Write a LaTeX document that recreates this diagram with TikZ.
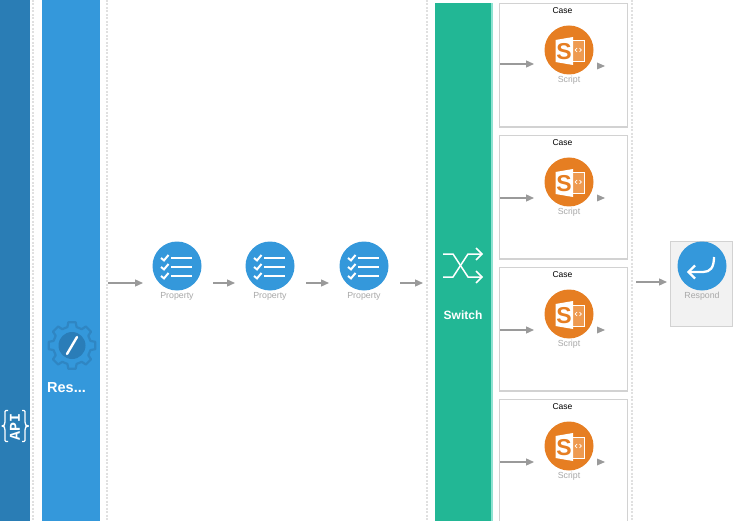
\documentclass[tikz,border=0pt]{standalone}
\usepackage{fontspec}
\setmainfont{Liberation Sans}
\setmonofont{Liberation Mono}
\usetikzlibrary{arrows.meta,calc}
\definecolor{apibar}{HTML}{2A7DB5}
\definecolor{resbar}{HTML}{3498DB}
\definecolor{gearc}{HTML}{2F86C3}
\definecolor{geard}{HTML}{2A7DB8}
\definecolor{sw}{HTML}{22B795}
\definecolor{swedge}{HTML}{8FE3D2}
\definecolor{orng}{HTML}{E67E22}
\definecolor{orngl}{HTML}{EE9A50}
\definecolor{bluec}{HTML}{3498DB}
\definecolor{linec}{HTML}{9A9A9A}
\definecolor{lab}{HTML}{A8A8A8}
\definecolor{divc}{HTML}{E0E0E0}
\definecolor{boxc}{HTML}{D2D2D2}
\tikzset{
  x=1pt,y=-1pt,
  flow/.style={draw=linec,line width=1.3pt,-{Triangle[length=8pt,width=7pt]}},
  divider/.style={draw=divc,line width=1.3pt,dash pattern=on 2pt off 1.5pt},
  icircle/.style={circle,minimum size=49pt,inner sep=0pt,draw=none},
  caption/.style={font=\fontsize{8.8}{10}\selectfont,text=lab,inner sep=0pt},
  casebox/.style={draw=boxc,line width=0.9pt,fill=white},
  casetitle/.style={font=\fontsize{8.5}{10}\selectfont,text=black,inner sep=0pt},
  glyph/.style={draw=white,line width=2pt},
  barlabel/.style={text=white,inner sep=0pt},
  swline/.style={draw=white,line width=1.5pt},
  brace/.style={draw=white,line width=1.3pt,line join=round},
}
% property node: name, x, y
\newcommand{\propnode}[3]{%
  \node[icircle,fill=bluec] (#1) at (#2,#3) {};
  \begin{scope}[shift={(#2,#3)}]
    \foreach \yy in {-8,1,10}{
      \draw[glyph] (-6,\yy) -- (15,\yy);
      \draw[glyph] (-16,\yy) -- (-13,\yy+2.4) -- (-8.5,\yy-3);
    }
  \end{scope}
  \node[caption] (#1t) at (#2,#3+30) {Property};
}
% script node: name, x, y
\newcommand{\scriptnode}[3]{%
  \node[icircle,fill=orng] (#1) at (#2,#3) {};
  \begin{scope}[shift={(#2,#3)}]
    \draw[white,fill=orngl,line width=1pt] (3,-9) rectangle (15.5,12);
    \fill[white] (-13.5,-10) -- (4,-13) -- (4,15) -- (-13.5,12) -- cycle;
    \node[inner sep=0pt,text=orng,font=\bfseries\fontsize{23}{25}\selectfont] at (-5,1.5) {S};
    \draw[white,line width=0.7pt] (8,-2) -- (6.2,0) -- (8,2) (10.5,-2) -- (12.3,0) -- (10.5,2);
  \end{scope}
  \node[caption] (#1t) at (#2,#3+30) {Script};
}
\begin{document}
\begin{tikzpicture}
\useasboundingbox (0,0) rectangle (743,521);
\fill[white] (0,0) rectangle (743,521);
% bars
\fill[apibar] (0,0) rectangle (30,521);
\fill[resbar] (42,0) rectangle (100,521);
\draw[divider] (33,0) -- (33,521);
\draw[divider] (107,0) -- (107,521);
\draw[divider] (427,0) -- (427,521);
\draw[divider] (632,0) -- (632,521);
% API badge
\node[text=white,rotate=90,inner sep=0pt,font=\ttfamily\bfseries\fontsize{15}{16}\selectfont] (api) at (15,426.5) {API};
\draw[brace] (8,410.5) -- (6,410.5) .. controls (4.5,410.5) and (5,412) .. (5,414) -- (5,422) .. controls (5,425) and (4,426) .. (2,426) .. controls (4,426) and (5,427) .. (5,430) -- (5,438) .. controls (5,440) and (4.5,441.5) .. (6,441.5) -- (8,441.5);
\draw[brace] (22,410.5) -- (24,410.5) .. controls (25.5,410.5) and (25,412) .. (25,414) -- (25,422) .. controls (25,425) and (26,426) .. (28.5,426) .. controls (26,426) and (25,427) .. (25,430) -- (25,438) .. controls (25,440) and (25.5,441.5) .. (24,441.5) -- (22,441.5);
% gear
\begin{scope}[shift={(72,345.5)}]
  \draw[gearc,line width=2.2pt,line join=round]
    (-9:23.5)
    \foreach \a in {0,45,...,315}{
      -- (\a-9:23.5) -- (\a+9:23.5) -- (\a+14:19) -- (\a+31:19)
    } -- cycle;
  \fill[geard] (0,0) circle (13.5);
  \draw[white,line width=2.4pt,line cap=round] (-5,8.5) -- (5,-8.5);
\end{scope}
\node[barlabel,font=\bfseries\fontsize{14.5}{16}\selectfont,anchor=west] (res) at (47,388) {Res...};
% switch
\fill[swedge] (435,3) rectangle (492.5,521);
\fill[sw] (435,3) rectangle (491,521);
\draw[swline] (443,254) -- (453,254) -- (468,277) -- (482,277);
\draw[swline] (443,277) -- (453,277) -- (468,254) -- (482,254);
\draw[swline] (476,248) -- (482,254) -- (476,260);
\draw[swline] (476,271) -- (482,277) -- (476,283);
\node[barlabel,font=\bfseries\fontsize{12}{14}\selectfont] (switch) at (463,315) {Switch};
% coordinates for connector ends
\coordinate (s0) at (108,283);
\coordinate (p1in) at (143,283);
\coordinate (p1out) at (213,283);
\coordinate (p2in) at (235,283);
\coordinate (p2out) at (306,283);
\coordinate (p3in) at (329,283);
\coordinate (p3out) at (400,283);
\coordinate (swin) at (423,283);
% property nodes
\propnode{pa}{177}{266}
\propnode{pb}{270}{266}
\propnode{pc}{364}{266}
\draw[flow] (s0) -- (p1in);
\draw[flow] (p1out) -- (p2in);
\draw[flow] (p2out) -- (p3in);
\draw[flow] (p3out) -- (swin);
% cases
\foreach \nm/\ct/\cb/\cy/\ay/\oy/\ly in {a/3/127/50/64/66/10.5,b/135/259/182/198/198/142.5,c/267/391/314/330/330/274.5,d/399/530/446/462/462/406.5}{
  \draw[casebox] (499.5,\ct) rectangle (627,\cb);
  \draw[boxc,line width=1.6pt] (499.5,\cb) -- (627,\cb);
  \node[casetitle] (case\nm) at (562.5,\ly) {Case};
  \scriptnode{sc\nm}{569}{\cy}
  \coordinate (in\nm) at (500,\ay);
  \coordinate (ine\nm) at (534,\ay);
  \draw[flow] (in\nm) -- (ine\nm);
  \coordinate (ou\nm) at (597,\oy);
  \coordinate (oue\nm) at (605,\oy);
  \fill[linec] ($(ou\nm)+(0,-3.5)$) -- (oue\nm) -- ($(ou\nm)+(0,3.5)$) -- cycle;
}
% respond
\node[draw=boxc,line width=0.9pt,fill=black!5,minimum width=62pt,minimum height=85pt,inner sep=0pt] (respbox) at (701,283.5) {};
\node[icircle,fill=bluec] (resp) at (702,266) {};
\draw[white,line width=2.3pt] (714,257) .. controls (714,268) and (710,272) .. (703,272) -- (689,272);
\draw[white,line width=2.3pt] (695,265.5) -- (688.5,272) -- (695,278.5);
\node[caption] (respt) at (702,296) {Respond};
\coordinate (rin) at (636,282);
\coordinate (rout) at (667,282);
\draw[flow] (rin) -- (rout);
\end{tikzpicture}
\end{document}
